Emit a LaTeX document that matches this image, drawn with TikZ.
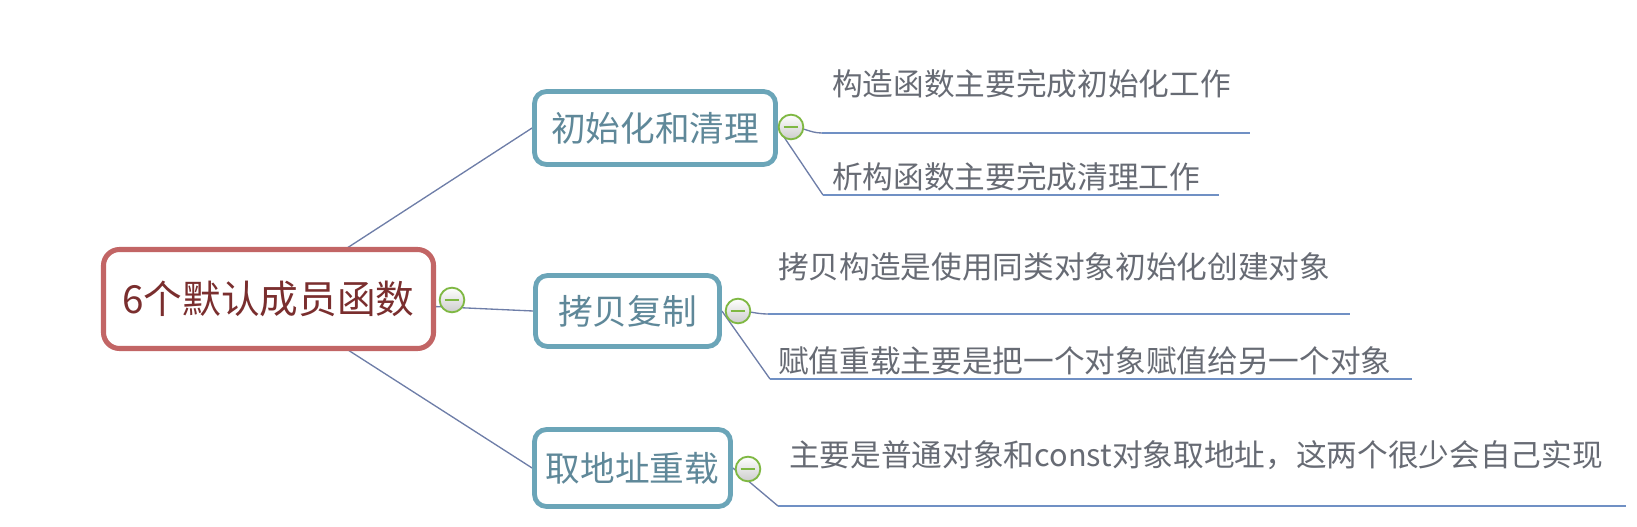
\documentclass[tikz,border=0pt]{standalone}
\usepackage{fontspec}
\setmainfont{Noto Sans CJK SC}
\usetikzlibrary{backgrounds}
\definecolor{rootred}{HTML}{C26565}
\definecolor{roottext}{HTML}{7A2E2E}
\definecolor{branchblue}{HTML}{6BA5B8}
\definecolor{branchtext}{HTML}{5F8899}
\definecolor{leaftextc}{HTML}{676B74}
\definecolor{linkblue}{HTML}{6E7EA8}
\definecolor{ulblue}{HTML}{7090C4}
\definecolor{togglegreen}{HTML}{7FB843}
\begin{document}
\begin{tikzpicture}[x=0.75pt,y=-0.75pt,
 rootbox/.style={draw=rootred, line width=3.8pt, rounded corners=12pt, fill=white, text=roottext, font=\fontsize{29}{34}\selectfont, minimum width=247.5pt, minimum height=74.25pt, inner sep=0pt},
 branchbox/.style={draw=branchblue, line width=3.6pt, rounded corners=9pt, fill=white, text=branchtext, font=\fontsize{26}{31}\selectfont, inner sep=0pt},
 leaftext/.style={anchor=west, inner sep=0pt, text=leaftextc, font=\fontsize{23}{28}\selectfont},
 toggle/.style={circle, draw=togglegreen, line width=1.4pt, minimum size=18.5pt, inner sep=0pt, top color=white, bottom color=black!20,
   path picture={\draw[togglegreen, line width=2pt] ([xshift=-5.5pt]path picture bounding box.center) -- ([xshift=5.5pt]path picture bounding box.center);}},
 link/.style={draw=linkblue, line width=1pt},
 underline/.style={draw=ulblue, line width=1.3pt}
]
\useasboundingbox (0,0) rectangle (1637,527);

\node[rootbox] (root) at (268.5,299) {6个默认成员函数};
\node[branchbox, minimum width=180.75pt, minimum height=54.75pt] (b1) at (655,128) {初始化和清理};
\node[branchbox, minimum width=138pt, minimum height=53.25pt] (b2) at (627.5,311) {拷贝复制};
\node[branchbox, minimum width=147pt, minimum height=57.75pt] (b3) at (632.5,468) {取地址重载};

\node[toggle] (c0) at (452,300) {};
\node[toggle] (c1) at (791,127) {};
\node[toggle] (c2) at (738,311) {};
\node[toggle] (c3) at (748,469) {};

\node[leaftext] (l1a) at (832,84) {构造函数主要完成初始化工作};
\node[leaftext] (l1b) at (832,177) {析构函数主要完成清理工作};
\node[leaftext] (l2a) at (778,267) {拷贝构造是使用同类对象初始化创建对象};
\node[leaftext] (l2b) at (778,361) {赋值重载主要是把一个对象赋值给另一个对象};
\node[leaftext] (l3) at (789,455) {主要是普通对象和const对象取地址，这两个很少会自己实现};

\coordinate (u1a) at (822,133); \coordinate (u1ae) at (1250,133);
\coordinate (u1b) at (823,195); \coordinate (u1be) at (1219,195);
\coordinate (u2a) at (768,314); \coordinate (u2ae) at (1350,314);
\coordinate (u2b) at (770,379); \coordinate (u2be) at (1412,379);
\coordinate (u3) at (778,506); \coordinate (u3e) at (1626,506);

\begin{pgfonlayer}{background}
\draw[link] (root.center) -- (b1.west);
\draw[link] (root.center) -- (b2.west);
\draw[link] (root.center) -- (b3.west);
\draw[link] (c1.center) to[out=0,in=180] (u1a);
\draw[underline] (u1a) -- (u1ae);
\draw[link] (b1.east) -- (u1b);
\draw[underline] (u1b) -- (u1be);
\draw[link] (c2.center) to[out=0,in=180] (u2a);
\draw[underline] (u2a) -- (u2ae);
\draw[link] (b2.east) -- (u2b);
\draw[underline] (u2b) -- (u2be);
\draw[link] (b3.east) -- (u3);
\draw[underline] (u3) -- (u3e);
\end{pgfonlayer}
\end{tikzpicture}
\end{document}
